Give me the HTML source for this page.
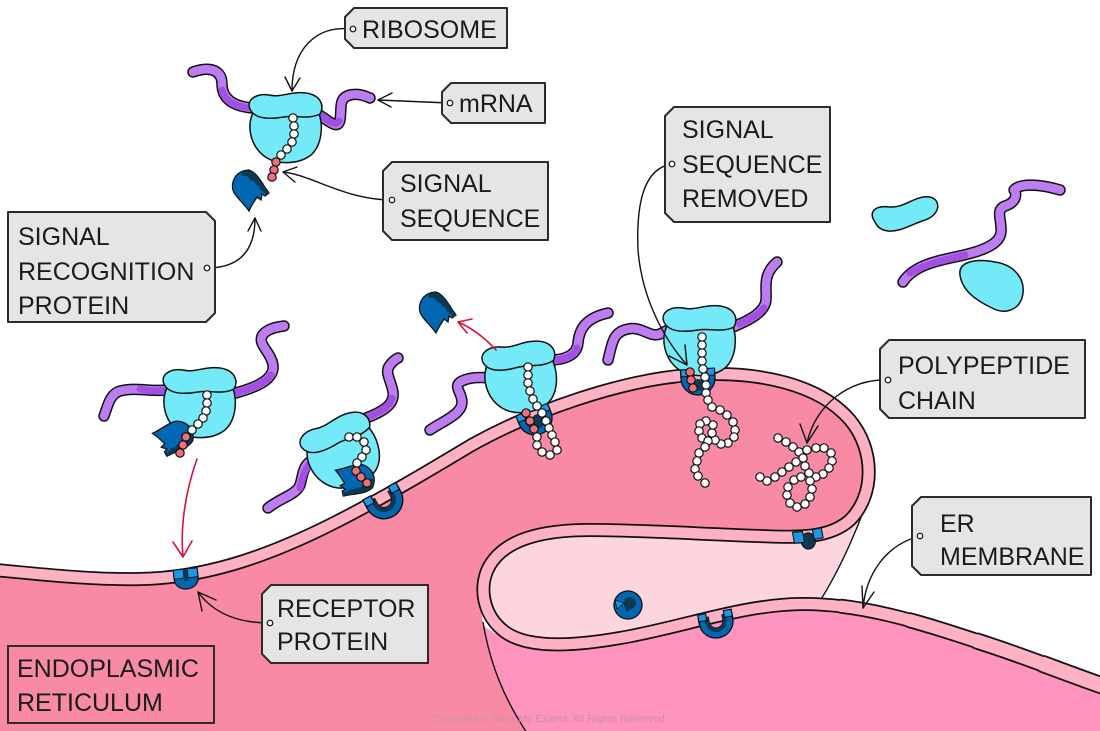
<!DOCTYPE html>
<html><head><meta charset="utf-8"><style>
html,body{margin:0;padding:0;background:#fff;}
svg{display:block;}
.t{font-family:"Liberation Sans",sans-serif;font-size:25px;fill:#1b1b1b;}
</style></head><body>
<svg width="1100" height="731" viewBox="0 0 1100 731" xmlns="http://www.w3.org/2000/svg">
<defs>
<g id="rib">
<path d="M-32,-16 C-40,-2 -36,18 -22,29 C-10,38 12,38 25,28 C36,18 38,-2 32,-16 C10,-20 -12,-20 -32,-16 Z" fill="#74E9F7" stroke="#111" stroke-width="1.5"/>
<path d="M-36,-18 C-40,-27 -30,-34 -17,-32 C-5,-29 5,-36 20,-34 C34,-32 39,-22 34,-13 C22,-7 10,-12 -2,-10 C-14,-8 -31,-7 -36,-18 Z" fill="#74E9F7" stroke="#111" stroke-width="1.5"/>
</g>
<g id="srp">
<path d="M-17,-8 C-15,-16 -8,-20 -1,-20 C5,-18 9,-12 13,-6 C15,-2 18,1 19,3 L15,6 L12,4 L11,10 L7,7 C4,12 1,16 -1,21 C-5,15 -11,10 -15,4 C-18,0 -18,-4 -17,-8 Z" fill="#0267B2" stroke="#111" stroke-width="1.3"/>
<path d="M-9,-18 C-4,-21 2,-19 5,-16 C8,-12 11,-8 14,-4 C16,-1 18,1 19,3 L16,5 C14,2 12,0 10,0 C10,-3 8,-5 6,-5 C5,-8 3,-10 0,-10 C-1,-13 -4,-15 -8,-14 Z" fill="#0B3A52"/>
</g>
<g id="rec">
<path d="M-17,-5 L-17,0 A17,17 0 0 0 17,0 L17,-5 L7,-5 L7,0 A7,7 0 0 1 -7,0 L-7,-5 Z" fill="#0267B2" stroke="#111" stroke-width="1.3"/>
<path d="M-11,-5 L-11,0 A11,11 0 0 0 11,0 L11,-5 L7,-5 L7,0 A7,7 0 0 1 -7,0 L-7,-5 Z" fill="#0B3A52"/>
<rect x="-17" y="-9" width="8" height="7" fill="#1D97E8" stroke="#111" stroke-width="1.2"/>
<rect x="9" y="-9" width="8" height="7" fill="#1D97E8" stroke="#111" stroke-width="1.2"/>
</g>
<path id="memA" d="M-5,570 C40,574 90,580 140,579 C200,578 260,560 330,525 C380,500 430,470 470,446 C530,412 620,380 690,375 C760,370 820,385 850,420 C875,450 875,495 850,520 C830,538 800,538 760,536 C700,534 640,530 590,530 C540,530 505,540 490,565 C478,585 482,615 505,632 C530,650 580,645 620,638 C680,628 740,605 800,604 C860,603 920,622 983,643 C1030,658 1070,675 1115,690"/>
<path id="memR" d="M800,604 C860,603 920,622 983,643 C1030,658 1070,675 1115,690"/>
</defs>

<!-- ER fills -->
<path d="M875,470 C860,525 840,570 818,604 L760,603 C700,610 640,635 580,645 L510,640 C480,620 478,580 495,555 C520,535 560,530 600,530 L800,536 C840,530 870,505 875,470 Z" fill="#FDD5DF"/>
<path d="M-5,570 C40,574 90,580 140,579 C200,578 260,560 330,525 C380,500 430,470 470,446 C530,412 620,380 690,375 C760,370 820,385 850,420 C875,450 875,495 850,520 C830,538 800,538 760,536 C700,534 640,530 590,530 C540,530 505,540 490,565 C480,585 480,605 483,625 C490,665 505,700 527,735 L-5,735 Z" fill="#F88AA6"/>
<path d="M483,625 C500,640 530,650 580,645 C680,628 740,605 800,604 C860,603 920,622 983,643 C1030,658 1070,675 1115,690 L1115,735 L527,735 C505,700 490,665 483,625 Z" fill="#FF94BF"/>
<path d="M875,478 C860,525 840,570 818,604" fill="none" stroke="#111" stroke-width="1.4"/>
<path d="M483,622 C490,665 505,700 527,733" fill="none" stroke="#111" stroke-width="1.4"/>

<!-- membrane -->
<g fill="none" stroke-linecap="butt">
<use href="#memA" stroke="#111" stroke-width="14"/>
<use href="#memR" stroke="#111" stroke-width="15" stroke-dasharray="0 40 3000 0"/>
<use href="#memR" stroke="#111" stroke-width="16" stroke-dasharray="0 110 3000 0"/>
<use href="#memR" stroke="#111" stroke-width="17" stroke-dasharray="0 180 3000 0"/>
<use href="#memR" stroke="#111" stroke-width="18" stroke-dasharray="0 250 3000 0"/>
<use href="#memA" stroke="#FFB1C4" stroke-width="10.5"/>
<use href="#memR" stroke="#FFB1C4" stroke-width="11.5" stroke-dasharray="0 40 3000 0"/>
<use href="#memR" stroke="#FFB1C4" stroke-width="12.5" stroke-dasharray="0 110 3000 0"/>
<use href="#memR" stroke="#FFB1C4" stroke-width="13.5" stroke-dasharray="0 180 3000 0"/>
<use href="#memR" stroke="#FFB1C4" stroke-width="14.5" stroke-dasharray="0 250 3000 0"/>
</g>

<!-- membrane receptors -->
<g transform="translate(186,577) rotate(-6)">
<path d="M-12,-6 L12,-6 L12,2 A12,10 0 0 1 -12,2 Z" fill="#0267B2" stroke="#111" stroke-width="1.2"/>
<rect x="-12" y="-8" width="10" height="9" fill="#1D97E8" stroke="#111" stroke-width="1"/>
<rect x="2" y="-8" width="10" height="9" fill="#1D97E8" stroke="#111" stroke-width="1"/>
<rect x="-2" y="-8" width="4" height="12" fill="#0B3A52"/>
</g>
<g transform="translate(808,537) rotate(-5)">
<ellipse cx="0" cy="4" rx="7" ry="8" fill="#0B3A52" stroke="#111" stroke-width="1.2"/>
<path d="M-15,-6 L-5,-6 L-4,5 L-14,5 Z" fill="#1D97E8" stroke="#111" stroke-width="1.1"/>
<path d="M5,-7 L14,-8 L15,2 L6,3 Z" fill="#1D97E8" stroke="#111" stroke-width="1.1"/>
</g>
<use href="#rec" transform="translate(716,621) rotate(-10)"/>
<circle cx="628" cy="605" r="14" fill="#0267B2" stroke="#111" stroke-width="1.3"/>
<circle cx="630" cy="603" r="6" fill="#0B3A52"/>
<path d="M624,605 L627,613 L632,607 Z" fill="#0B3A52"/>
<path d="M615,600 L624,603 L617,609 Z" fill="#1D97E8" stroke="#111" stroke-width="0.8"/>

<!-- mRNA ribbons -->
<g fill="none" stroke-linecap="round" stroke-linejoin="round">
<g stroke="#111" stroke-width="11.5">
<path d="M193,72 C210,66 222,70 222,84 C222,98 232,106 252,108"/>
<path d="M318,114 C330,122 338,130 340,120 C342,108 338,98 350,95 C358,93 365,96 370,98"/>
<path d="M104,416 C108,405 110,394 120,391 C135,387 152,392 168,390"/>
<path d="M232,394 C255,388 275,380 273,365 C271,352 258,345 262,336 C266,329 276,327 284,326"/>
<path d="M268,508 C280,498 296,495 300,485 C304,472 302,462 320,457"/>
<path d="M366,418 C382,412 395,405 393,392 C391,380 384,372 390,365 C393,361 396,359 398,358"/>
<path d="M430,430 C445,420 462,414 462,402 C462,392 452,386 462,381 C470,377 480,377 490,378"/>
<path d="M550,360 C565,360 577,355 578,343 C579,330 585,318 608,313"/>
<path d="M608,360 C612,345 612,332 628,329 C642,326 650,338 660,334 C665,331 668,330 672,329"/>
<path d="M733,327 C750,320 765,312 766,300 C767,288 762,275 777,262"/>
<path d="M903,282 C912,268 930,262 955,257 C980,252 1000,245 1001,232 C1002,220 995,210 1005,206 C1015,203 1018,195 1014,190 C1020,183 1040,184 1060,190"/>
</g>
<g stroke="#BD7CF1" stroke-width="8.5">
<path d="M193,72 C210,66 222,70 222,84 C222,98 232,106 252,108"/>
<path d="M318,114 C330,122 338,130 340,120 C342,108 338,98 350,95 C358,93 365,96 370,98"/>
<path d="M104,416 C108,405 110,394 120,391 C135,387 152,392 168,390"/>
<path d="M232,394 C255,388 275,380 273,365 C271,352 258,345 262,336 C266,329 276,327 284,326"/>
<path d="M268,508 C280,498 296,495 300,485 C304,472 302,462 320,457"/>
<path d="M366,418 C382,412 395,405 393,392 C391,380 384,372 390,365 C393,361 396,359 398,358"/>
<path d="M430,430 C445,420 462,414 462,402 C462,392 452,386 462,381 C470,377 480,377 490,378"/>
<path d="M550,360 C565,360 577,355 578,343 C579,330 585,318 608,313"/>
<path d="M608,360 C612,345 612,332 628,329 C642,326 650,338 660,334 C665,331 668,330 672,329"/>
<path d="M733,327 C750,320 765,312 766,300 C767,288 762,275 777,262"/>
<path d="M903,282 C912,268 930,262 955,257 C980,252 1000,245 1001,232 C1002,220 995,210 1005,206 C1015,203 1018,195 1014,190 C1020,183 1040,184 1060,190"/>
</g>
<g stroke="#A24FE2" stroke-width="7">
<path d="M222,90 C224,100 234,106 250,108"/>
<path d="M320,115 C330,122 336,126 339,121"/>
<path d="M140,389 C150,392 160,391 167,390"/>
<path d="M236,393 C252,388 266,383 271,375"/>
<path d="M300,488 C303,476 305,464 318,458"/>
<path d="M368,417 C380,412 390,407 392,398"/>
<path d="M552,360 C565,360 574,356 577,348"/>
<path d="M740,324 C752,318 760,314 764,308"/>
<path d="M910,273 C925,264 945,260 965,255"/>
</g>
</g>

<!-- top-right free ribosome subunits -->
<path d="M875,222 C868,212 875,205 890,207 C905,208 915,195 930,197 C942,200 940,215 925,220 C910,225 900,232 888,231 C880,230 877,226 875,222 Z" fill="#74E9F7" stroke="#111" stroke-width="1.5"/>
<path d="M960,275 C958,262 975,258 995,262 C1015,265 1027,280 1022,298 C1018,310 1005,315 992,308 C975,300 962,290 960,275 Z" fill="#74E9F7" stroke="#111" stroke-width="1.5"/>

<!-- ribosomes -->
<use href="#rib" transform="translate(286,127)"/>
<use href="#rib" transform="translate(200,402)"/>
<use href="#rib" transform="translate(343,452) rotate(-22)"/>
<use href="#rib" transform="translate(521,377) rotate(-6)"/>
<use href="#rib" transform="translate(700,340)"/>

<!-- SRPs -->
<use href="#srp" transform="translate(250,190)"/>
<use href="#srp" transform="translate(437,312)"/>
<use href="#srp" transform="translate(173,438) rotate(100)"/>
<use href="#srp" transform="translate(354,480) rotate(115)"/>

<!-- receptors with ribosomes -->
<use href="#rec" transform="translate(384,500) rotate(-28) scale(1.1)"/>
<use href="#rec" transform="translate(535,418) rotate(-22)"/>
<use href="#rec" transform="translate(698,378) rotate(-3)"/>
<circle cx="538" cy="420" r="6" fill="#0B3A52"/>
<circle cx="698" cy="385" r="6" fill="#0B3A52"/>

<!-- peptide chains -->
<g fill="#fff" stroke="#111" stroke-width="1.2">
<circle cx="293" cy="118" r="4.2"/><circle cx="294" cy="126" r="4.2"/><circle cx="294" cy="134" r="4.2"/><circle cx="292" cy="142" r="4.2"/><circle cx="287" cy="149" r="4.2"/><circle cx="281" cy="155" r="4.2"/>
<circle cx="207" cy="395" r="4.2"/><circle cx="207" cy="403" r="4.2"/><circle cx="206" cy="411" r="4.2"/><circle cx="203" cy="418" r="4.2"/><circle cx="198" cy="424" r="4.2"/><circle cx="192" cy="430" r="4.2"/>
<circle cx="349" cy="437" r="4.2"/><circle cx="357" cy="437" r="4.2"/><circle cx="364" cy="442" r="4.2"/><circle cx="366" cy="450" r="4.2"/><circle cx="362" cy="457" r="4.2"/><circle cx="357" cy="463" r="4.2"/>
<circle cx="528" cy="367" r="4.2"/><circle cx="528" cy="375" r="4.2"/><circle cx="528" cy="383" r="4.2"/><circle cx="530" cy="391" r="4.2"/><circle cx="533" cy="399" r="4.2"/><circle cx="537" cy="406" r="4.2"/><circle cx="542" cy="413" r="4.2"/><circle cx="546" cy="421" r="4.2"/><circle cx="549" cy="428" r="4.2"/><circle cx="552" cy="435" r="4.2"/><circle cx="555" cy="442" r="4.2"/><circle cx="557" cy="450" r="4.2"/><circle cx="550" cy="455" r="4.2"/><circle cx="542" cy="452" r="4.2"/><circle cx="537" cy="445" r="4.2"/><circle cx="537" cy="437" r="4.2"/>
<circle cx="702" cy="337" r="4.2"/><circle cx="702" cy="345" r="4.2"/><circle cx="702" cy="353" r="4.2"/><circle cx="702" cy="361" r="4.2"/><circle cx="703" cy="369" r="4.2"/><circle cx="705" cy="377" r="4.2"/><circle cx="706" cy="385" r="4.2"/><circle cx="706" cy="393" r="4.2"/><circle cx="708" cy="400" r="4.2"/><circle cx="712" cy="407" r="4.2"/><circle cx="720" cy="410" r="4.2"/><circle cx="727" cy="415" r="4.2"/><circle cx="733" cy="422" r="4.2"/><circle cx="735" cy="430" r="4.2"/><circle cx="734" cy="437" r="4.2"/><circle cx="728" cy="443" r="4.2"/><circle cx="721" cy="444" r="4.2"/><circle cx="715" cy="440" r="4.2"/><circle cx="712" cy="433" r="4.2"/><circle cx="713" cy="425" r="4.2"/><circle cx="706" cy="421" r="4.2"/><circle cx="700" cy="424" r="4.2"/><circle cx="699" cy="431" r="4.2"/><circle cx="702" cy="438" r="4.2"/><circle cx="708" cy="441" r="4.2"/><circle cx="705" cy="447" r="4.2"/><circle cx="699" cy="453" r="4.2"/><circle cx="697" cy="461" r="4.2"/><circle cx="695" cy="469" r="4.2"/><circle cx="698" cy="476" r="4.2"/><circle cx="705" cy="483" r="4.2"/>
<circle cx="778" cy="438" r="4.2"/><circle cx="786" cy="442" r="4.2"/><circle cx="793" cy="447" r="4.2"/><circle cx="799" cy="452" r="4.2"/><circle cx="807" cy="450" r="4.2"/><circle cx="816" cy="448" r="4.2"/><circle cx="824" cy="448" r="4.2"/><circle cx="831" cy="453" r="4.2"/><circle cx="832" cy="461" r="4.2"/><circle cx="829" cy="468" r="4.2"/><circle cx="823" cy="474" r="4.2"/><circle cx="816" cy="477" r="4.2"/><circle cx="809" cy="473" r="4.2"/><circle cx="805" cy="466" r="4.2"/><circle cx="803" cy="458" r="4.2"/><circle cx="796" cy="462" r="4.2"/><circle cx="789" cy="467" r="4.2"/><circle cx="782" cy="472" r="4.2"/><circle cx="775" cy="477" r="4.2"/><circle cx="767" cy="481" r="4.2"/><circle cx="760" cy="477" r="4.2"/><circle cx="810" cy="481" r="4.2"/><circle cx="812" cy="489" r="4.2"/><circle cx="810" cy="497" r="4.2"/><circle cx="805" cy="504" r="4.2"/><circle cx="797" cy="507" r="4.2"/><circle cx="790" cy="503" r="4.2"/><circle cx="787" cy="495" r="4.2"/><circle cx="788" cy="487" r="4.2"/><circle cx="794" cy="480" r="4.2"/><circle cx="801" cy="477" r="4.2"/>
</g>
<g fill="#F26F78" stroke="#111" stroke-width="1.2">
<circle cx="276" cy="162" r="4.2"/><circle cx="274" cy="170" r="4.2"/><circle cx="272" cy="177" r="4.2"/>
<circle cx="186" cy="437" r="4.2"/><circle cx="183" cy="445" r="4.2"/><circle cx="180" cy="453" r="4.2"/>
<circle cx="356" cy="471" r="4.2"/><circle cx="361" cy="477" r="4.2"/><circle cx="367" cy="483" r="4.2"/>
<circle cx="526" cy="413" r="4.2"/><circle cx="530" cy="421" r="4.2"/><circle cx="534" cy="429" r="4.2"/>
<circle cx="690" cy="372" r="4.2"/><circle cx="691" cy="380" r="4.2"/><circle cx="693" cy="388" r="4.2"/>
</g>

<!-- red arrows -->
<g fill="none" stroke="#D4143A" stroke-width="1.6" stroke-linecap="round" stroke-linejoin="round">
<path d="M197,459 C186,490 180,525 183,557"/><path d="M173,542 L183,557 L192,541"/>
<path d="M496,350 C485,338 472,328 458,322"/><path d="M472,319 L458,322 L467,333"/>
</g>

<!-- label arrows -->
<g fill="none" stroke="#111" stroke-width="1.4" stroke-linecap="round" stroke-linejoin="round">
<path d="M352,29 C315,25 292,50 292,91"/><path d="M285,77 L292,91 L300,78"/>
<path d="M449,103 L378,100"/><path d="M392,93 L378,100 L391,107"/>
<path d="M392,200 C345,200 312,175 283,172"/><path d="M297,167 L283,172 L295,182"/>
<path d="M207,268 C240,268 255,250 255,218"/><path d="M248,231 L255,218 L261,231"/>
<path d="M672,164 C645,168 636,200 638,250 C642,300 665,340 687,365"/><path d="M685,345 L687,365 L669,356"/>
<path d="M888,380 C850,378 815,405 807,443"/><path d="M818,426 L807,443 L800,424"/>
<path d="M920,536 C885,545 866,575 863,608"/><path d="M874,592 L863,608 L862,586"/>
<path d="M270,623 C240,623 215,615 198,592"/><path d="M202,611 L198,592 L216,600"/>
</g>

<!-- label boxes -->
<g fill="#E5E5E5" stroke="#2b2b2b" stroke-width="2" stroke-linejoin="round">
<path d="M354,8 L507,8 L507,48 L354,48 L345,39 L345,17 Z"/>
<path d="M451,83 L545,83 L545,123 L451,123 L442,114 L442,92 Z"/>
<path d="M392,162 L548,162 L548,240 L392,240 L383,231 L383,171 Z"/>
<path d="M8,212 L206,212 L215,221 L215,313 L206,322 L8,322 Z"/>
<path d="M674,107 L830,107 L830,222 L674,222 L665,213 L665,116 Z"/>
<path d="M889,340 L1085,340 L1085,418 L889,418 L880,409 L880,349 Z"/>
<path d="M921,497 L1091,497 L1091,575 L921,575 L912,566 L912,506 Z"/>
<path d="M271,585 L428,585 L428,663 L271,663 L262,654 L262,594 Z"/>
</g>
<rect x="8" y="646" width="206" height="77" fill="none" stroke="#2b2b2b" stroke-width="2"/>
<g fill="#fff" stroke="#111" stroke-width="1.2">
<circle cx="353" cy="29" r="2.8"/><circle cx="450" cy="103" r="2.8"/><circle cx="392" cy="200" r="2.8"/><circle cx="207" cy="268" r="2.8"/><circle cx="672" cy="164" r="2.8"/><circle cx="888" cy="380" r="2.8"/><circle cx="920" cy="536" r="2.8"/><circle cx="270" cy="623" r="2.8"/>
</g>

<text class="t" x="362" y="38">RIBOSOME</text>
<text class="t" x="459" y="112">mRNA</text>
<text class="t" x="400" y="192">SIGNAL</text>
<text class="t" x="400" y="227">SEQUENCE</text>
<text class="t" x="18" y="245">SIGNAL</text>
<text class="t" x="18" y="280">RECOGNITION</text>
<text class="t" x="18" y="314">PROTEIN</text>
<text class="t" x="682" y="138">SIGNAL</text>
<text class="t" x="682" y="173">SEQUENCE</text>
<text class="t" x="682" y="207">REMOVED</text>
<text class="t" x="898" y="374">POLYPEPTIDE</text>
<text class="t" x="898" y="409">CHAIN</text>
<text class="t" x="940" y="532">ER</text>
<text class="t" x="940" y="565">MEMBRANE</text>
<text class="t" x="277" y="617">RECEPTOR</text>
<text class="t" x="277" y="650">PROTEIN</text>
<text class="t" x="17" y="677">ENDOPLASMIC</text>
<text class="t" x="17" y="711">RETICULUM</text>
<text x="549" y="722" text-anchor="middle" font-family="Liberation Sans, sans-serif" font-size="10.5" fill="#C98FA3">Copyright © Save My Exams. All Rights Reserved</text>
</svg>
</body></html>
